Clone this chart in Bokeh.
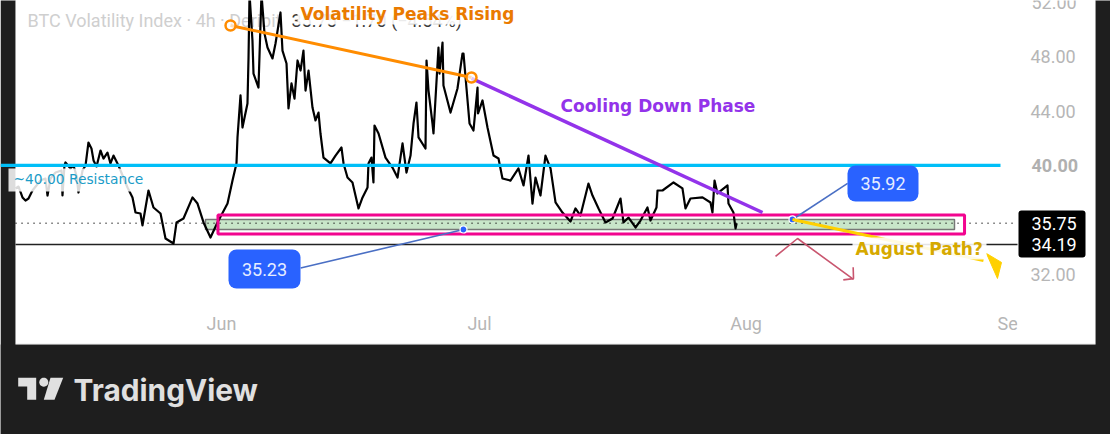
from datetime import datetime, timedelta, timezone
import numpy as np
from bokeh.plotting import figure
from bokeh.embed import file_html
from bokeh.resources import INLINE
from bokeh.models import (Range1d, DatetimeAxis, LinearAxis, FixedTicker, BoxAnnotation, Label,
                          PolyAnnotation, DatetimeTickFormatter, CustomJS, PrintfTickFormatter)
from bokeh.events import DocumentReady

# ---------- data (days after 1 June, index value) ----------
days = [-23.95,-23.6,-23.14,-22.79,-22.44,-21.98,-21.05,-20.47,-20.23,-19.88,-19.3,-18.6,-18.49,-18.26,-18.14,
        -17.56,-17.21,-16.86,-16.63,-16.16,-15.81,-15.47,-15.12,-14.88,-14.53,-14.07,-13.72,-13.26,-12.91,-12.56,
        -11.98,-10.93,-10.35,-10.0,-9.42,-9.19,-8.49,-7.91,-7.09,-6.51,-5.58,-5.23,-4.42,-3.37,-2.79,-2.09,-1.28,-0.47,
        0.7,1.28,1.74,1.86,2.21,2.44,3.02,3.14,3.26,3.6,3.72,4.3,4.65,5.0,5.35,5.93,6.28,6.86,7.09,7.56,7.79,8.14,
        8.49,8.84,9.19,9.53,9.77,10.12,10.58,10.93,11.28,11.51,11.86,12.67,13.26,13.95,14.19,14.65,15.23,15.93,16.4,
        16.98,17.09,17.44,17.67,17.79,18.26,19.07,19.88,20.47,21.05,21.51,21.98,22.33,22.67,22.91,23.72,23.84,24.07,
        24.53,24.65,25.23,25.35,25.7,25.81,26.63,27.44,28.02,28.14,28.49,28.84,29.3,29.77,29.83,30.35,30.93,31.63,
        32.21,32.67,33.6,34.53,35.12,35.7,36.16,36.51,37.09,37.67,38.26,38.84,39.65,40.58,41.16,41.74,42.67,43.14,
        43.84,44.65,45.47,46.4,46.74,47.33,48.14,48.72,49.53,49.88,50.58,50.7,51.28,52.56,53.6,53.95,54.53,55.93,
        56.86,57.09,57.33,57.67,58.84,58.95,59.53,59.77,59.9]
values = [38.31,38.45,37.65,37.42,37.57,38.16,38.89,39.04,37.79,39.04,39.48,39.63,37.79,40.0,40.22,
          39.78,40.0,39.26,38.01,39.63,40.0,41.69,41.25,40.37,39.93,41.10,40.51,40.95,40.15,40.73,
          40.0,38.38,37.65,36.54,36.47,35.59,38.16,36.91,36.47,34.63,34.26,35.81,36.10,37.65,37.20,35.81,34.70,35.81,
          37.20,38.89,40.15,42.06,45.15,42.79,44.56,47.87,52.6,49.19,46.76,45.73,52.6,49.70,48.67,47.87,48.97,51.25,48.45,47.50,44.19,46.03,
          44.92,47.72,46.98,48.45,45.51,46.98,44.26,43.31,43.89,42.35,40.58,40.15,40.73,41.32,40.15,39.11,38.75,36.84,37.65,
          38.38,40.15,40.58,38.75,42.94,42.35,40.58,39.85,39.11,41.62,39.48,40.73,43.09,44.63,42.06,41.25,47.72,45.51,
          43.09,42.35,48.67,46.76,49.04,45.88,43.89,45.66,48.23,48.23,45.66,43.09,42.57,45.73,43.82,44.78,42.79,40.73,
          40.51,39.04,38.89,39.78,38.53,40.73,37.20,39.11,37.79,40.73,39.78,37.28,36.54,35.88,36.84,36.32,38.67,37.79,
          36.84,35.81,36.10,37.57,35.81,36.17,35.44,35.95,36.91,35.95,36.91,38.16,38.16,38.75,38.31,36.84,37.57,37.65,
          37.28,36.54,38.89,37.94,38.53,37.20,36.54,35.37,35.75]

month_days = [0, 30, 61, 92]
price_ticks = [48, 44, 32]
resistance = 40.0
last_price = 35.75
prev_level = 34.19
band_days, band_vals = [-1.86, 85.23], [35.29, 36.03]
rect_days, rect_vals = [-0.41, 86.4], [34.96, 36.36]
orange_days, orange_vals = [1.05, 29.07], [50.29, 46.47]
purple_days, purple_vals = [29.07, 62.91], [46.40, 36.54]
call_a_days, call_a_vals = [9.2, 28.14], [32.46, 35.29]
call_b_days, call_b_vals = [72.8, 66.4], [38.68, 36.03]
yellow_days, yellow_vals = [66.4, 88.6], [36.03, 33.01]
head_days, head_vals = [88.95, 90.7, 90.23], [33.53, 32.87, 31.69]
red_days, red_vals = [64.42, 66.98, 73.49], [33.31, 34.63, 31.62]
red_head_days, red_head_vals = [72.3, 73.49, 73.45], [31.59, 31.68, 32.52]

BASE = datetime(2025, 6, 1, tzinfo=timezone.utc)
def T(d):
    return (BASE + timedelta(days=d)).timestamp() * 1000
def TS(seq):
    return [T(d) for d in seq]
# canvas pixel -> data, for the page furniture
def X(px):
    return T((px - 221) / 8.6)
def Y(py):
    return 52.13 - py / 13.6

p = figure(width=1110, height=434, output_backend="svg", toolbar_location=None,
           x_range=Range1d(X(0), X(1110)), y_range=Range1d(Y(434), Y(0)),
           x_axis_type=None, y_axis_type=None,
           min_border_left=0, min_border_right=0, min_border_top=0, min_border_bottom=0,
           background_fill_color="white", border_fill_color="white", outline_line_color=None)
p.grid.visible = False

# axes
FONT = "Roboto"
AXC = "#b6b6b6"
xax = DatetimeAxis(ticker=FixedTicker(ticks=TS(month_days)), fixed_location=Y(312),
                   formatter=DatetimeTickFormatter(milliseconds="%b", seconds="%b", minsec="%b", minutes="%b",
                                                   hourmin="%b", hours="%b", days="%b", months="%b", years="%b"))
yax = LinearAxis(ticker=FixedTicker(ticks=price_ticks), fixed_location=X(1017), formatter=PrintfTickFormatter(format="%.2f"))
for ax in (xax, yax):
    ax.axis_line_color = None
    ax.major_tick_line_color = None
    ax.minor_tick_line_color = None
    ax.major_tick_out = 0
    ax.major_tick_in = 0
    ax.major_label_text_color = AXC
    ax.major_label_text_font = FONT
    ax.major_label_text_font_size = "18px"
xax.major_label_standoff = 0
yax.major_label_standoff = 13
p.add_layout(xax, "below")
p.add_layout(yax, "right")

# page furniture
def box(l, r, t, b, **kw):
    q = BoxAnnotation(left=X(l), right=X(r), top=Y(t), bottom=Y(b), **kw)
    p.add_layout(q)
    return q
DARK = "#1e1e1e"
box(0, 15, -2, 436, fill_color=DARK, fill_alpha=1, line_color=None, level="underlay")
box(1095, 1112, -2, 436, fill_color=DARK, fill_alpha=1, line_color=None, level="underlay")
box(0, 1112, 344, 436, fill_color=DARK, fill_alpha=1, line_color=None, level="underlay")
box(15, 1095, -5, 343.5, fill_alpha=0, line_color="#b4b4b4", line_width=1, level="underlay")
box(1017, 1040, 316, 342, fill_color="white", fill_alpha=1, line_color=None, level="overlay")

def label(px, py, text, **kw):
    kw.setdefault("text_baseline", "middle")
    lab = Label(x=X(px), y=Y(py), text=text, **kw)
    p.add_layout(lab)
    return lab

label(27, 20, "BTC Volatility Index · 4h · Deribit", text_font=FONT, text_font_size="18px",
      text_color="#cfcfcf", level="underlay")
label(291, 20, "35.75 −1.70 (−4.54%)", text_font=FONT, text_font_size="18px",
      text_color="#3a3a3a", level="underlay")

# marks
p.quad(left=[T(band_days[0])], right=[T(band_days[1])], bottom=[band_vals[0]], top=[band_vals[1]],
       fill_color="#c8e6c9", line_color="#777777", line_width=1.5)
p.segment(x0=[T(days[0])], x1=[X(1017)], y0=[last_price], y1=[last_price],
          line_color="#222222", line_width=1.5, line_dash="1 5")
p.segment(x0=[T(days[0])], x1=[X(1017)], y0=[prev_level], y1=[prev_level],
          line_color="#222222", line_width=1.6)
p.line(TS(days), values, line_color="black", line_width=2.2, line_join="round")
p.segment(x0=[X(0)], x1=[T((1000 - 221) / 8.6)], y0=[resistance], y1=[resistance],
          line_color="#00bff8", line_width=3.2)
p.quad(left=[T(rect_days[0])], right=[T(rect_days[1])], bottom=[rect_vals[0]], top=[rect_vals[1]],
       fill_color=None, line_color="#f2058f", line_width=3)
p.line(TS(orange_days), orange_vals, line_color="#ff8c00", line_width=3)
p.line(TS(purple_days), purple_vals, line_color="#9333ea", line_width=3.5)
p.scatter(TS(orange_days), orange_vals, size=10, marker="circle", fill_color="white", fill_alpha=0.7,
          line_color="#ff8c00", line_width=2.5)
p.line(TS(call_a_days), call_a_vals, line_color="#4a6fc4", line_width=1.6)
p.line(TS(call_b_days), call_b_vals, line_color="#4a6fc4", line_width=1.6)
p.scatter([T(call_a_days[1]), T(call_b_days[1])], [call_a_vals[1], call_b_vals[1]], size=7, marker="circle",
          fill_color="#2962ff", line_color="white", line_width=1.2)
p.line(TS(yellow_days), yellow_vals, line_color="#ffd000", line_width=3)
p.patch(TS(head_days), head_vals, fill_color="#ffd000", line_color="#ffd000")
p.line(TS(red_days), red_vals, line_color="#c9566f", line_width=1.6)
p.line(TS(red_head_days), red_head_vals, line_color="#c9566f", line_width=1.6)

# callouts
def bubble(l, r, t, b, text):
    box(l, r, t, b, fill_color="#2962ff", fill_alpha=1, line_color=None, border_radius=8)
    label((l + r) / 2, (t + b) / 2, text, text_align="center", text_font=FONT, text_font_size="18px",
          text_color="#e6edff")
bubble(228, 300, 249, 288, "35.23")
bubble(847, 918, 165, 201, "35.92")

# price tags and the two price-scale labels the axis cannot style or place
box(1018, 1085, 210, 257, fill_color="black", fill_alpha=1, line_color=None, border_radius=3)
label(1031, 223, "35.75", text_font=FONT, text_font_size="18px", text_color="white")
label(1031, 244, "34.19", text_font=FONT, text_font_size="18px", text_color="white")
label(1031, 165, "40.00", text_font=FONT, text_font_size="18px", text_color="#b0b0b0", text_font_style="bold")
label(1031, 2, "52.00", text_font=FONT, text_font_size="18px", text_color=AXC)

# drawing labels
box(297, 515, 3, 24, fill_color="white", fill_alpha=0.9, line_color=None)
label(300, 13, "Volatility Peaks Rising", text_font="DejaVu Sans", text_font_style="bold",
      text_font_size="17px", text_color="#ea7a00")
label(560, 105, "Cooling Down Phase", text_font="DejaVu Sans", text_font_style="bold",
      text_font_size="17px", text_color="#9333ea")
box(852, 986, 237, 259, fill_color="white", fill_alpha=0.88, line_color=None)
label(855, 248, "August Path?", text_font="DejaVu Sans", text_font_style="bold",
      text_font_size="17px", text_color="#d6a900")
box(8, 133, 168, 191, fill_color="white", fill_alpha=0.85, line_color=None)
label(13, 178, "~40.00 Resistance", text_font="DejaVu Sans", text_font_size="13.8px", text_color="#1b9cc8")

# TradingView mark
LOGO = "#e0e0e0"
def poly(pts):
    xs, ys = zip(*pts)
    p.add_layout(PolyAnnotation(xs=[X(a) for a in xs], ys=[Y(b) for b in ys], fill_color=LOGO, fill_alpha=1,
                                line_color=None, level="overlay"))
poly([(17.7, 377.3), (35.7, 377.3), (35.7, 399.3), (26.7, 399.3), (26.7, 386), (17.7, 386)])
poly([(50, 377.3), (62.7, 377.3), (54, 399.3), (43.3, 399.3)])
th = np.linspace(0, 2 * np.pi, 24, endpoint=False)
poly([(43.3 + 4.5 * np.cos(t), 381.7 + 4.5 * np.sin(t)) for t in th])
label(73, 389, "TradingView", text_font="Inter", text_font_style="bold", text_font_size="29.8px", text_color=LOGO)

p.js_on_event(DocumentReady, CustomJS(code="""
document.documentElement.style.overflow='hidden';
document.body.style.margin='0';
document.body.style.background='#1e1e1e';
"""))

open("out.html", "w").write(file_html(p, INLINE))
